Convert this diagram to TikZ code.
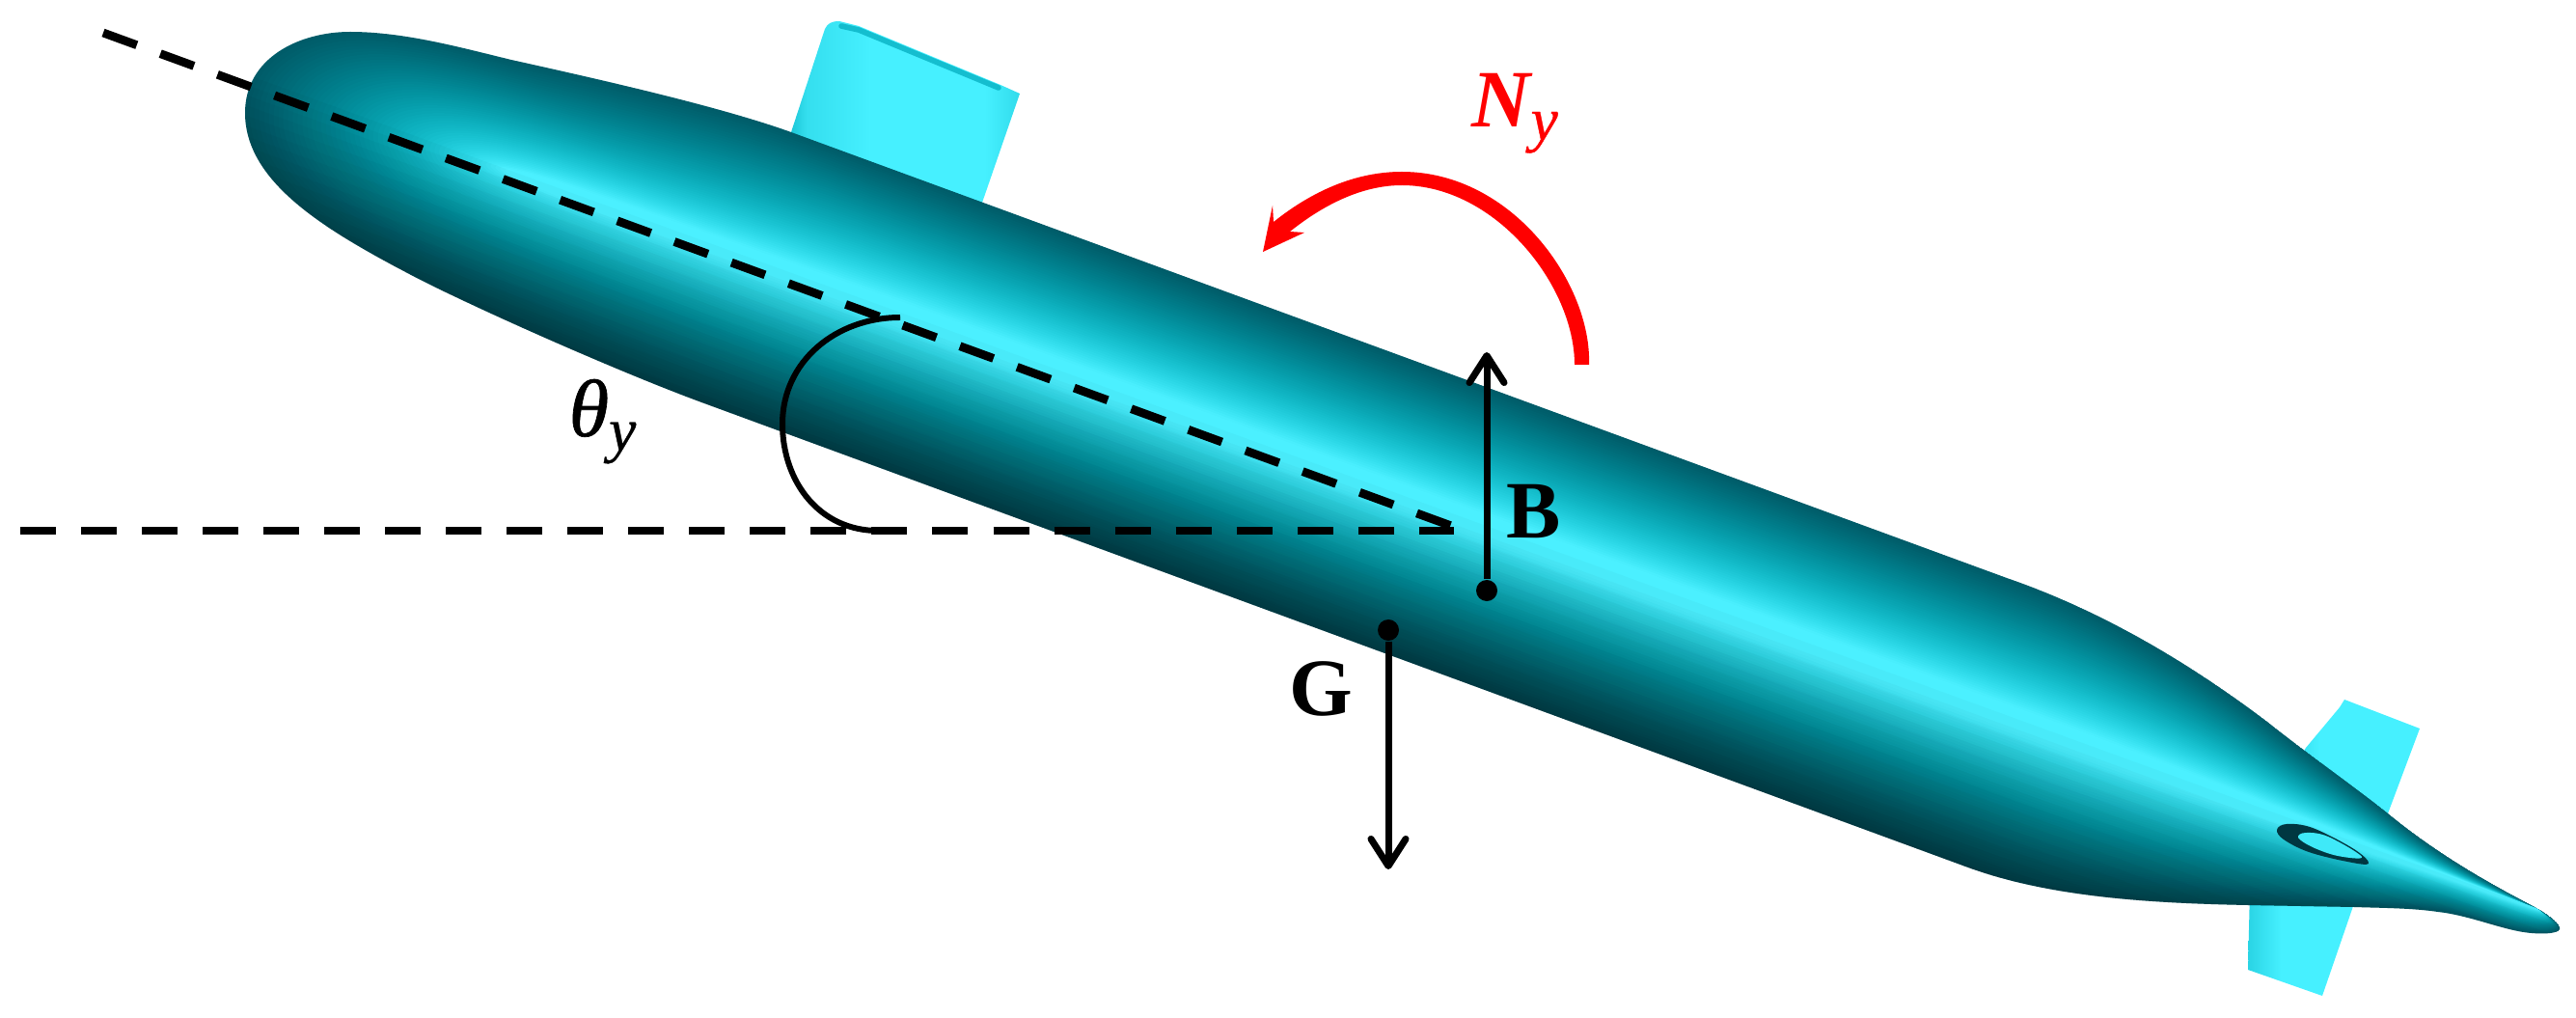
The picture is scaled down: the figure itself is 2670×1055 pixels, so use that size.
\documentclass[tikz,border=0pt]{standalone}
\usepackage{xcolor}
\usepackage{fontspec}
\setmainfont{Liberation Serif}
\usetikzlibrary{arrows.meta}
\definecolor{sailblue}{RGB}{70,240,255}
\definecolor{saildark}{RGB}{0,170,188}
\definecolor{rudderdark}{RGB}{0,55,65}
\pgfdeclarehorizontalshading{sailshade}{100bp}{color(0bp)=(saildark); color(25bp)=(saildark); color(32bp)=(sailblue!75!saildark); color(45bp)=(sailblue); color(68bp)=(sailblue); color(75bp)=(sailblue!70!saildark); color(100bp)=(sailblue!70!saildark)}
\pgfdeclarehorizontalshading{finshade}{100bp}{color(0bp)=(sailblue!60!saildark); color(25bp)=(sailblue!60!saildark); color(40bp)=(sailblue); color(100bp)=(sailblue)}
\newcommand{\labelfont}{\fontsize{24}{24}\selectfont\bfseries}
\newcommand{\lowy}[1]{\raisebox{#1}{\fontsize{18}{18}\selectfont\mdseries\itshape\addfontfeature{FakeBold=0.6}y}}
\def\hullpath{(254,117) .. controls (254,60) and (310,33) .. (363,33) .. controls (420,33) and (480,50) .. (530,62) .. controls (620,82) and (745,110) .. (820,137) -- (2080,599) .. controls (2170,630) and (2260,680) .. (2350,748) .. controls (2390,780) and (2440,815) .. (2475,843) .. controls (2530,888) and (2585,918) .. (2627,940) .. controls (2640,947) and (2655,958) .. (2653,963) .. controls (2652,968) and (2630,969) .. (2610,965) .. controls (2585,960) and (2555,948) .. (2527,945) .. controls (2500,941) and (2470,941) .. (2440,940) -- (2330,938) .. controls (2230,936) and (2125,930) .. (2040,899) -- (730,418) .. controls (640,385) and (490,318) .. (430,287) .. controls (340,240) and (254,190) .. (254,117) -- cycle}
\begin{document}
\begin{tikzpicture}[x=0.01cm,y=-0.01cm,
    heavydash/.style={line width=2.5pt,dash pattern=on 37*0.2845pt off 26*0.2845pt},
    forcearrow/.style={line width=2pt,-{Straight Barb[length=0.28cm,width=0.36cm,line width=2pt,round]}},
    forcedot/.style={circle,fill=black,inner sep=0pt,minimum size=0.22cm},
    labeltext/.style={inner sep=0pt,font=\labelfont}]
  \useasboundingbox (0,0) rectangle (2670,1055);
  % sail and fins
  \shade[shading=sailshade] (800,200) -- (820,137) -- (855,30) .. controls (858,24) and (862,22) .. (870,22) -- (890,27) -- (1037,88) -- (1057,97) -- (1018,210) -- (1000,260) -- cycle;
  \draw[saildark,line width=1.6pt,line cap=round,opacity=0.7] (872,27) -- (890,31) -- (1035,91);
  \shade[shading=finshade] (2360,820) -- (2390,775) -- (2425,733) -- (2430,725) -- (2508,755) -- (2475,843) -- (2450,890) -- cycle;
  \shade[shading=finshade] (2332,920) -- (2330,1005) -- (2407,1032) -- (2438,942) -- (2445,920) -- cycle;
  % hull
  \begin{scope}
    \clip \hullpath;
    \foreach \i in {0,...,59}{
      \pgfmathsetmacro\hullf{1-\i/60}
      \pgfmathsetmacro\hullg{min(1,1.12*(1-\hullf)*(0.85+0.15*(1-\hullf)))}
      \pgfmathtruncatemacro\hullr{75*\hullg*\hullg*\hullg}
      \pgfmathtruncatemacro\hullv{92+148*\hullg}
      \pgfmathtruncatemacro\hullb{105+150*\hullg}
      \definecolor{hullcol}{RGB}{\hullr,\hullv,\hullb}
      \pgfmathsetmacro\hullx{0.87+0.13*\hullf}
      \fill[hullcol,shift={(2450,876)},rotate=-20,xscale=\hullx,yscale=\hullf,rotate=20,shift={(-2450,-876)}] \hullpath;
    }
    \begin{scope}[shift={(2450,876)},rotate=-20]
      \foreach \stripy in {0,10,...,160}
        \fill[black,opacity=0.025] (-3000,\stripy) rectangle (1000,500);
    \end{scope}
  \end{scope}
  % rudder
  \fill[rudderdark] plot[smooth cycle,tension=0.6] coordinates {(2360,860) (2370,854) (2397,858) (2440,880) (2455,895) (2433,893) (2393,883) (2367,870)};
  \fill[sailblue!90!saildark] plot[smooth cycle,tension=0.6] coordinates {(2382,868) (2390,863) (2413,867) (2448,888) (2423,887) (2397,878)};
  % reference lines
  \coordinate (axisstart) at (107,34);
  \coordinate (axisend) at (1507,546);
  \coordinate (levelstart) at (21,550);
  \coordinate (levelend) at (1507,550);
  \draw[heavydash] (axisstart) -- (axisend);
  \draw[heavydash] (levelstart) -- (levelend);
  % angle
  \coordinate (anglestart) at (933,329);
  \coordinate (angleend) at (910,550);
  \draw[line width=1.7pt] (anglestart) .. controls (866,329) and (811,375) .. (811,439) .. controls (811,500) and (850,550) .. (angleend);
  \node[labeltext,anchor=base west] (thetalabel) at (589,452) {\mdseries\itshape\addfontfeature{FakeBold=0.8}θ\lowy{-4.2pt}};
  % moment
  \coordinate (momenttip) at (1309,261);
  \fill[red] (1647,378) .. controls (1650,295) and (1568,178) .. (1453,178) .. controls (1405,178) and (1360,198) .. (1320,230) -- (1319,213) -- (momenttip) -- (1352,241) -- (1337,240) .. controls (1372,212) and (1412,192) .. (1453,192) .. controls (1550,192) and (1632,296) .. (1632,378) -- cycle;
  \node[labeltext,red,anchor=base west] (nylabel) at (1525,132) {\itshape N\lowy{-3.7pt}};
  % forces
  \node[forcedot] (buoydot) at (1541,612) {};
  \coordinate (buoytip) at (1541,365);
  \draw[forcearrow] (buoydot) -- (buoytip);
  \node[labeltext,anchor=base] (buoylabel) at (1590,557) {B};
  \node[forcedot] (gravdot) at (1439,653) {};
  \coordinate (gravtip) at (1439,901);
  \draw[forcearrow] (gravdot) -- (gravtip);
  \node[labeltext,anchor=base] (gravlabel) at (1369,741) {G};
\end{tikzpicture}
\end{document}
